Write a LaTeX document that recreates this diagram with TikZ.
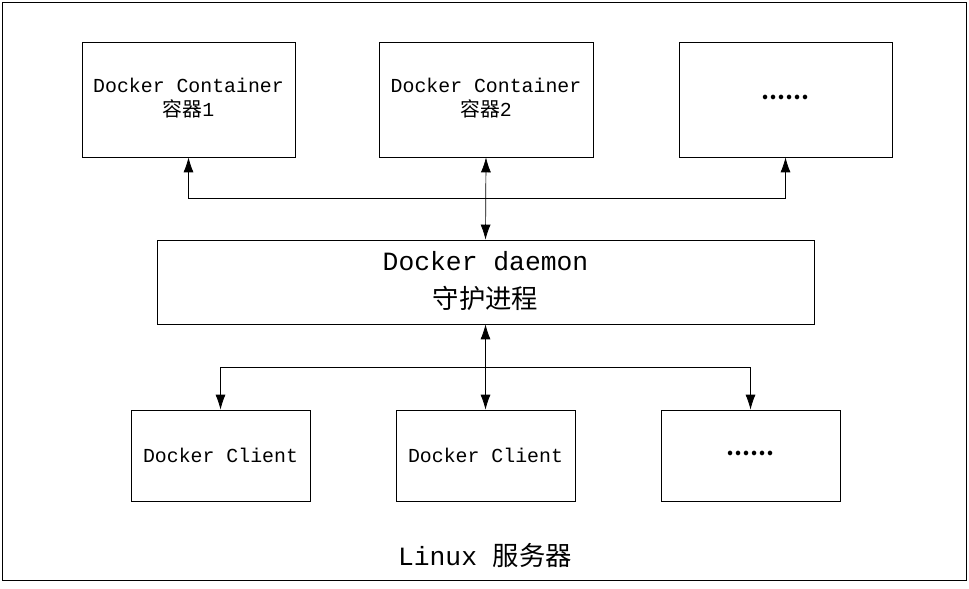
\documentclass[tikz,border=0pt]{standalone}
\usepackage{fontspec}
\setmainfont{Liberation Mono}
\newfontfamily\cjk{Noto Sans CJK SC}
\usetikzlibrary{arrows.meta}
\begin{document}
\begin{tikzpicture}[x=0.02cm,y=-0.02cm,
    box/.style={draw,thin,inner sep=0pt,align=center,font=\fontsize{11.3}{14}\selectfont},
    dots/.style={font=\cjk\bfseries\fontsize{12}{14}\selectfont},
    link/.style={thin,-{Latex[length=0.3cm,width=0.2cm]}},
    dlink/.style={thin,{Latex[length=0.3cm,width=0.2cm]}-{Latex[length=0.3cm,width=0.2cm]}}]
        \useasboundingbox (0,0) rectangle (969,588);
        \draw[thin] (2,2) rectangle (966,580);

        \node[box,minimum width=4.26cm,minimum height=2.3cm] at (188.5,99.5) (cont1) {};
        \node[font=\fontsize{11.3}{14}\selectfont,align=center] at (188.5,98) (text1) {Docker Container\\{\cjk 容器}1};
        \node[box,minimum width=4.28cm,minimum height=2.3cm] at (486,99.5) (cont2) {};
        \node[font=\fontsize{11.3}{14}\selectfont,align=center] at (486,98) (text2) {Docker Container\\{\cjk 容器}2};
        \node[box,minimum width=4.26cm,minimum height=2.3cm] at (785.5,99.5) (cont3) {};
        \node[dots] at (785.5,97) (text3) {……};

        \node[box,minimum width=13.14cm,minimum height=1.68cm] at (485.5,282) (daemon) {};
        \node[font=\fontsize{15}{22}\selectfont,align=center] at (485.5,281) (text4) {Docker daemon\\{\cjk 守护进程}};

        \node[box,minimum width=3.58cm,minimum height=1.82cm] at (220.5,455.5) (client1) {Docker Client};
        \node[box,minimum width=3.58cm,minimum height=1.82cm] at (485.5,455.5) (client2) {Docker Client};
        \node[box,minimum width=3.58cm,minimum height=1.82cm] at (750.5,455.5) (client3) {};
        \node[dots] at (750.5,453) (text5) {……};

        \coordinate (upbus) at (486,198);
        \coordinate (lowbus) at (486,367);
        \draw[dlink] (cont2.south) -- (daemon.north);
        \draw[link] (upbus) -| (cont1.south);
        \draw[link] (upbus) -| (cont3.south);
        \draw[dlink] (daemon.south) -- (client2.north);
        \draw[link] (lowbus) -| (client1.north);
        \draw[link] (lowbus) -| (client3.north);

        \node[font=\fontsize{15}{18}\selectfont] at (485,555) (server) {Linux {\cjk 服务器}};
\end{tikzpicture}
\end{document}
